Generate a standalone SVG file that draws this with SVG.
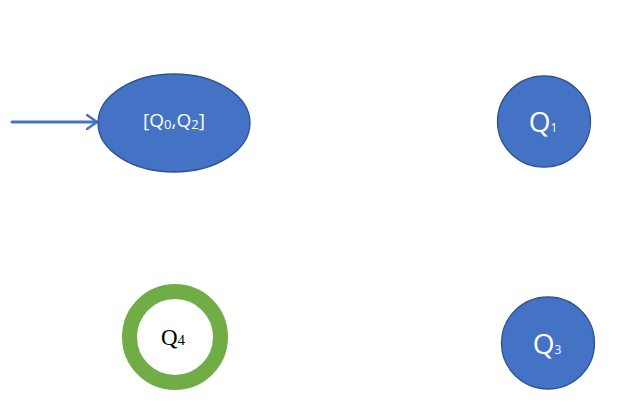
<svg xmlns="http://www.w3.org/2000/svg" width="640" height="413" viewBox="0 0 640 413">
<defs>
<marker id="open" viewBox="0 0 12 16" markerWidth="12" markerHeight="16" refX="11" refY="8" orient="auto" markerUnits="userSpaceOnUse">
<path d="M1,1 L11,8 L1,15" fill="none" stroke="#4472C4" stroke-width="2.5" stroke-linecap="round" stroke-linejoin="round"/>
</marker>
</defs>
<style>
.st{fill:#4472C4;stroke:#2F528F;stroke-width:1.3}
.lbl{font-family:"Open Sans","Liberation Sans",sans-serif;fill:#ffffff}
.ring{fill:#ffffff;stroke:#70AD47;stroke-width:15}
.ser{font-family:"Liberation Serif",serif;fill:#000000}
</style>
<rect width="640" height="413" fill="#ffffff"/>
<g id="connectors">
<line x1="12" y1="122" x2="97" y2="122" stroke="#4472C4" stroke-width="3" stroke-linecap="round" marker-end="url(#open)"/>
</g>
<g id="q0q2">
<ellipse class="st" cx="174" cy="123" rx="76" ry="49"/>
<text class="lbl" x="174" y="127" text-anchor="middle" font-size="19">[Q<tspan font-size="13" dy="2">0</tspan><tspan dy="-2">,Q</tspan><tspan font-size="13" dy="2">2</tspan><tspan dy="-2">]</tspan></text>
</g>
<g id="q1">
<ellipse class="st" cx="544" cy="121.5" rx="46.5" ry="45.5"/>
<text class="lbl" x="543" y="132" text-anchor="middle" font-size="28">Q<tspan font-size="12">1</tspan></text>
</g>
<g id="q3">
<ellipse class="st" cx="548" cy="343" rx="46.5" ry="46"/>
<text class="lbl" x="547" y="354" text-anchor="middle" font-size="28">Q<tspan font-size="12">3</tspan></text>
</g>
<g id="q4">
<circle class="ring" cx="175" cy="337" r="45.5"/>
<text class="ser" x="173" y="345" text-anchor="middle" font-size="23">Q<tspan font-size="15">4</tspan></text>
</g>
</svg>
